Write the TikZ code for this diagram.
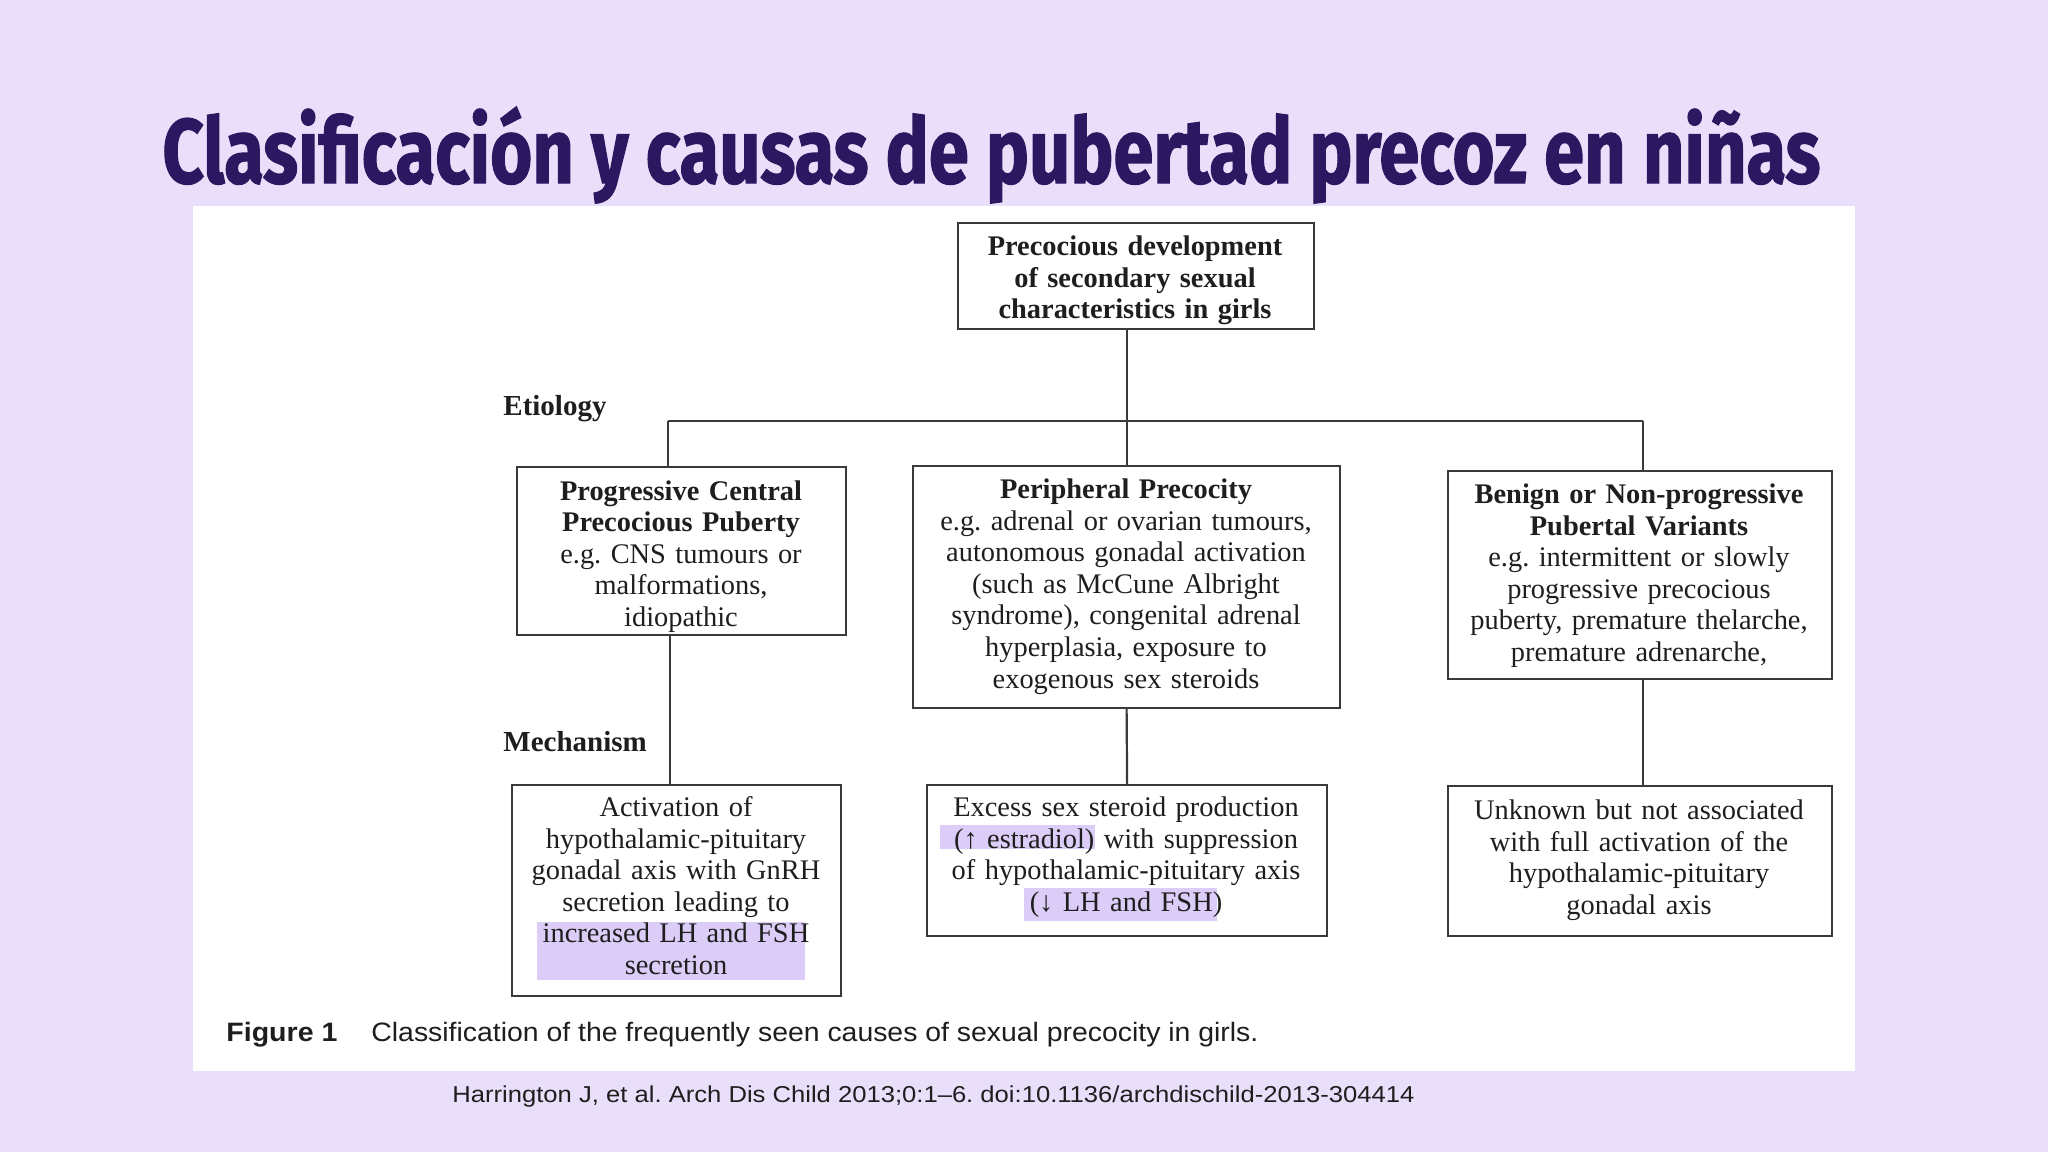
\documentclass[tikz,border=0pt]{standalone}
\usepackage{fontspec}
\setmainfont{Liberation Serif}
\newfontfamily\capfont{Liberation Sans}
\newfontfamily\titlefont{Fira Sans}[BoldFeatures={FakeBold=1.5}]
\definecolor{bg}{HTML}{E9DFFB}
\definecolor{titlecol}{HTML}{2C1860}
\definecolor{hl}{HTML}{DCCDF8}
\definecolor{ln}{HTML}{3A3A3A}
\definecolor{txt}{HTML}{1E1E1E}
\frenchspacing
\begin{document}
\begin{tikzpicture}[x=0.5pt,y=-0.5pt,
  box/.style={draw=ln, line width=1.1pt, fill=white, inner sep=0pt, anchor=north west},
  btxt/.style={inner sep=0pt, text width=#1, align=center, anchor=base, font=\fontsize{14.2}{15.8}\selectfont, text=txt},
  conn/.style={draw=ln, line width=1.1pt},
  lbl/.style={inner sep=0pt, anchor=base west, font=\bfseries\fontsize{14.5}{16}\selectfont, text=txt},
  plain/.style={inner sep=0pt, anchor=base west, text=txt}]
\fill[bg] (0,0) rectangle (2048,1152);
\useasboundingbox (0,0) rectangle (2048,1152);
\fill[white] (193,206) rectangle (1855,1071);
% title
\node[inner sep=0pt, anchor=base west, text=titlecol] (title) at (162,183)
  {\resizebox{829pt}{\height}{\titlefont\bfseries\fontsize{45.7}{50}\selectfont Clasificación y causas de pubertad precoz en niñas}};
% boxes
\node[box, minimum width=178pt, minimum height=53pt] (top) at (957,222) {};
\node[box, minimum width=164.5pt, minimum height=84pt] (pcpp) at (516,466) {};
\node[box, minimum width=213.5pt, minimum height=121pt] (pp) at (912,465) {};
\node[box, minimum width=192pt, minimum height=104pt] (bnv) at (1447,470) {};
\node[box, minimum width=164.5pt, minimum height=105.5pt] (mc) at (511,784) {};
\node[box, minimum width=200pt, minimum height=75.5pt] (mp) at (926,784) {};
\node[box, minimum width=192pt, minimum height=75pt] (mb) at (1447,785) {};
% highlights
\fill[hl] (537,922) rectangle (805,980);
\fill[hl] (940,825) rectangle (1095,849);
\fill[hl] (1024,888) rectangle (1217,921);
% texts
\node[btxt=178pt] (topt) at (1135,255.5) {{\bfseries Precocious development}\\{\bfseries of secondary sexual}\\{\bfseries characteristics in girls}};
\node[btxt=164pt] (pcppt) at (681,500) {{\bfseries Progressive Central}\\{\bfseries Precocious Puberty}\\e.g. CNS tumours or\\malformations,\\idiopathic};
\node[btxt=213pt] (ppt) at (1126,498.5) {{\bfseries Peripheral Precocity}\\e.g. adrenal or ovarian tumours,\\autonomous gonadal activation\\(such as McCune Albright\\syndrome), congenital adrenal\\hyperplasia, exposure to\\exogenous sex steroids};
\node[btxt=192pt] (bnvt) at (1639,503.5) {{\bfseries Benign or Non-progressive}\\{\bfseries Pubertal Variants}\\e.g. intermittent or slowly\\progressive precocious\\puberty, premature thelarche,\\premature adrenarche,};
\node[btxt=164pt] (mct) at (676,816.5) {Activation of\\hypothalamic-pituitary\\gonadal axis with GnRH\\secretion leading to\\increased LH and FSH\\secretion};
\node[btxt=200pt] (mpt) at (1126,816.5) {Excess sex steroid production\\(↑ estradiol) with suppression\\of hypothalamic-pituitary axis\\(↓ LH and FSH)};
\node[btxt=192pt] (mbt) at (1639,819.5) {Unknown but not associated\\with full activation of the\\hypothalamic-pituitary\\gonadal axis};
% labels
\node[lbl] (etio) at (503,415) {Etiology};
\node[lbl] (mech) at (503,751) {Mechanism};
% connectors
\coordinate (jl) at (668,421);
\coordinate (jr) at (1643,421);
\coordinate (cl) at (670,700);
\draw[conn] (top.south -| pp.north) -- (pp.north);
\draw[conn] (jl) -- (jr);
\draw[conn] (jl) -- (jl |- pcpp.north);
\draw[conn] (jr) -- (jr |- bnv.north);
\draw[conn] (cl |- pcpp.south) -- (cl |- mc.north);
\draw[conn] (pp.south) -- (mp.north);
\draw[conn] (jr |- bnv.south) -- (jr |- mb.north);
% caption
\node[plain] (fig) at (226,1041) {\resizebox{55.5pt}{\height}{\capfont\bfseries\fontsize{13.3}{15}\selectfont Figure 1}};
\node[plain] (cap) at (371,1041) {\resizebox{443.5pt}{\height}{\capfont\fontsize{13.3}{15}\selectfont Classification of the frequently seen causes of sexual precocity in girls.}};
\node[plain] (cite) at (452,1102) {\resizebox{481pt}{\height}{\capfont\fontsize{11.5}{13}\selectfont Harrington J, et al. Arch Dis Child 2013;0:1–6. doi:10.1136/archdischild-2013-304414}};
\end{tikzpicture}
\end{document}
